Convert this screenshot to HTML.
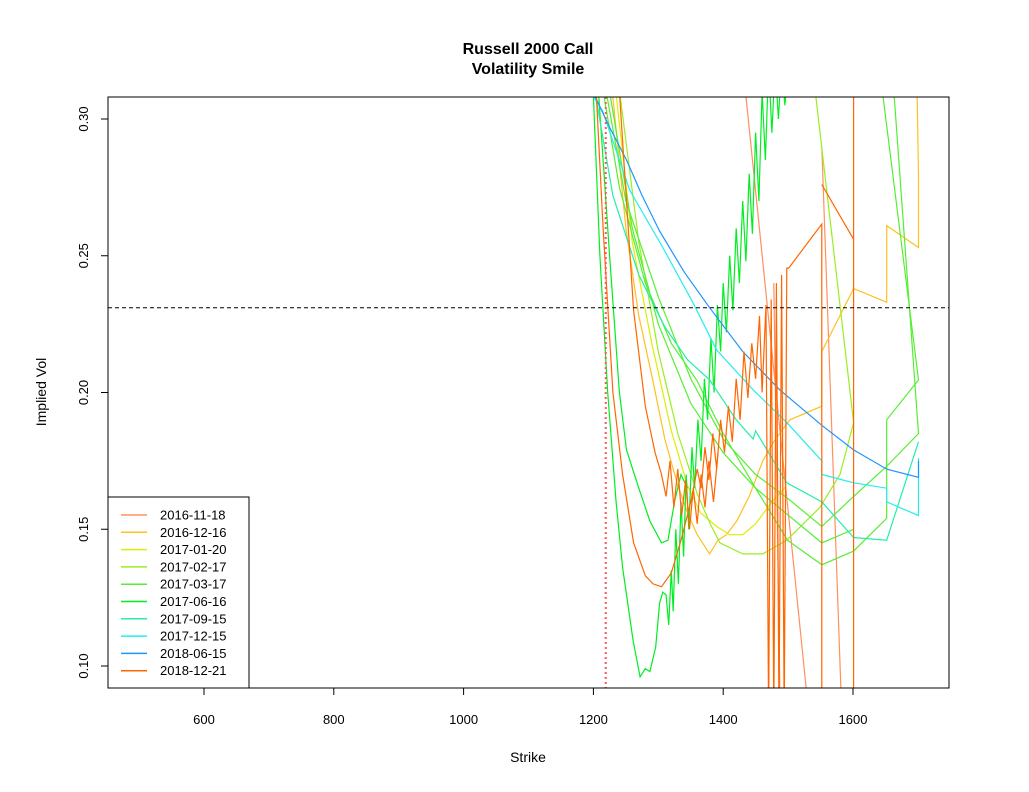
<!DOCTYPE html>
<html><head><meta charset="utf-8"><style>
body{margin:0;background:#fff;}
svg{display:block;font-family:"Liberation Sans",sans-serif;}
</style></head><body>
<svg id="chart" width="1029" height="792">
<defs><clipPath id="pc"><rect x="108" y="97" width="841" height="591"/></clipPath></defs>
<rect width="1029" height="792" fill="#fff"/>
<text x="528" y="54" text-anchor="middle" font-size="16" font-weight="bold">Russell 2000 Call</text>
<text x="528" y="74" text-anchor="middle" font-size="16" font-weight="bold">Volatility Smile</text>
<text x="528" y="762" text-anchor="middle" font-size="14">Strike</text>
<text x="46" y="392" text-anchor="middle" font-size="14" transform="rotate(-90 46 392)">Implied Vol</text>
<g id="axes"></g>
<g id="series" clip-path="url(#pc)"></g>
<rect x="108" y="97" width="841" height="591" fill="none" stroke="#000"/>
<g id="legend"></g>
</svg>
<script>
const xTicks = [600, 800, 1000, 1200, 1400, 1600];
const yTicks = [0.10, 0.15, 0.20, 0.25, 0.30];
const yTickLabels = ["0.10", "0.15", "0.20", "0.25", "0.30"];
const hLineVol = 0.231;
const vLineStrike = 1219;
const labels = ["2016-11-18","2016-12-16","2017-01-20","2017-02-17","2017-03-17","2017-06-16","2017-09-15","2017-12-15","2018-06-15","2018-12-21"];
const colors = ["#FF9060","#FFC020","#DDEE00","#99EE22","#55EE33","#00EE22","#22EEAA","#22EEEE","#1E96FF","#FF6600"];
const s20161118 = [[[1430,0.32],[1533,0.08]],[[1552,0.29],[1583,0.08]],[[1478,0.24],[1488,0.08]]];
const s20161216 = [[[1225,0.32],[1250,0.26],[1270,0.228],[1291,0.205],[1310,0.183],[1330,0.166],[1345,0.156],[1360,0.148],[1379,0.141],[1392,0.146],[1405,0.148],[1421,0.153],[1440,0.162],[1461,0.175],[1478,0.182],[1490,0.186],[1503,0.19],[1552,0.195],[1552,0.215],[1601,0.238],[1652,0.233],[1652,0.261],[1701,0.253],[1701,0.28],[1698,0.32]]];
const s20170120 = [[[1230,0.32],[1260,0.255],[1290,0.218],[1320,0.186],[1345,0.166],[1365,0.156],[1390,0.151],[1410,0.148],[1430,0.148],[1450,0.152],[1475,0.16],[1498,0.166]]];
const s20170217 = [[[1235,0.32],[1270,0.255],[1300,0.215],[1330,0.185],[1360,0.163],[1380,0.152],[1395,0.145],[1430,0.141],[1461,0.141],[1498,0.146],[1549,0.158],[1580,0.17],[1601,0.189],[1537,0.32]]];
const s20170317 = [[[1208,0.32],[1240,0.275],[1280,0.24],[1320,0.218],[1359,0.2046],[1400,0.185],[1450,0.165],[1499,0.146],[1552,0.137],[1601,0.142],[1652,0.154],[1652,0.19],[1701,0.2046],[1640,0.32]],
 [[1212,0.32],[1250,0.27],[1300,0.235],[1350,0.205],[1400,0.183],[1450,0.17],[1501,0.161],[1552,0.151],[1601,0.162],[1652,0.173],[1701,0.185],[1660,0.32]],
 [[1218,0.32],[1260,0.26],[1300,0.225],[1350,0.196],[1400,0.178],[1450,0.165],[1501,0.155],[1552,0.145],[1601,0.15]]];
const s20170616 = [[[1198,0.32],[1210,0.25],[1222,0.2],[1235,0.16],[1245,0.136],[1261,0.1095],[1272,0.096],[1280,0.099],[1287,0.098],[1296,0.107],[1302,0.123],[1307,0.127],[1312,0.126],[1316,0.115],[1320,0.135],[1323,0.12],[1327,0.15],[1331,0.13],[1335,0.16],[1339,0.14],[1343,0.17],[1347,0.15],[1352,0.18],[1356,0.165],[1361,0.19],[1366,0.175],[1371,0.205],[1376,0.19],[1381,0.22],[1386,0.2],[1391,0.232],[1396,0.215],[1400,0.24],[1405,0.222],[1410,0.25],[1415,0.23],[1420,0.26],[1425,0.24],[1430,0.27],[1435,0.248],[1440,0.28],[1445,0.258],[1450,0.295],[1455,0.27],[1460,0.31],[1465,0.285],[1470,0.32],[1475,0.295],[1480,0.32],[1485,0.3],[1490,0.32],[1495,0.305],[1500,0.32]],
 [[1205,0.32],[1225,0.25],[1240,0.2],[1251,0.179],[1270,0.165],[1287,0.153],[1305,0.145],[1315,0.146],[1325,0.16],[1335,0.17],[1345,0.165]]];
const s20170915 = [[[1195,0.32],[1230,0.272],[1270,0.243],[1310,0.224],[1345,0.212],[1379,0.2046],[1420,0.19],[1446,0.183],[1450,0.186],[1470,0.178],[1498,0.167],[1552,0.16],[1601,0.147],[1652,0.146],[1701,0.182]]];
const s20171215 = [[[1195,0.31],[1214,0.303],[1256,0.274],[1307,0.253],[1353,0.233],[1390,0.2155],[1446,0.201],[1498,0.189],[1552,0.175],[1552,0.17],[1601,0.167],[1652,0.165],[1652,0.16],[1701,0.155],[1701,0.176]]];
const s20180615 = [[[1195,0.312],[1225,0.297],[1251,0.285],[1275,0.272],[1302,0.259],[1340,0.244],[1379,0.231],[1430,0.215],[1487,0.201],[1552,0.188],[1601,0.179],[1652,0.172],[1701,0.169],[1701,0.175]]];
const s20181221 = [[[1200,0.33],[1215,0.26],[1230,0.2],[1245,0.17],[1262,0.145],[1280,0.133],[1292,0.13],[1305,0.129],[1320,0.134],[1335,0.146],[1350,0.16],[1360,0.172],[1366,0.165],[1372,0.18],[1378,0.168],[1384,0.185],[1390,0.172],[1396,0.19],[1402,0.178],[1408,0.195],[1414,0.182],[1420,0.205],[1426,0.19],[1432,0.215],[1438,0.198],[1444,0.218],[1450,0.205],[1456,0.228],[1460,0.2],[1466,0.232],[1470,0.08],[1474,0.234],[1478,0.08],[1482,0.24],[1486,0.08],[1490,0.243],[1494,0.08],[1498,0.2455],[1501,0.2455],[1552,0.2616],[1552,0.08]],
 [[1552,0.276],[1601,0.256],[1601,0.08],[1601,0.32]],
 [[1240,0.31],[1262,0.23],[1280,0.195],[1295,0.178],[1305,0.17],[1312,0.162],[1318,0.175],[1324,0.158],[1330,0.172],[1336,0.155],[1342,0.168],[1348,0.15],[1354,0.165],[1360,0.152],[1366,0.17],[1372,0.158],[1378,0.175],[1385,0.16],[1392,0.178]]];
const allSeries = [s20161118,s20161216,s20170120,s20170217,s20170317,s20170616,s20170915,s20171215,s20180615,s20181221];

const NS = "http://www.w3.org/2000/svg";
function xs(v){ return 204 + (v - 600) * 0.649; }
function ys(v){ return 119 + (0.30 - v) * 2735; }
function mk(tag, attrs, parent){ const e = document.createElementNS(NS, tag); for (const k in attrs) e.setAttribute(k, attrs[k]); parent.appendChild(e); return e; }

const axes = document.getElementById('axes');
mk('line',{x1:xs(xTicks[0]),x2:xs(xTicks[xTicks.length-1]),y1:688,y2:688,stroke:'#000'},axes);
xTicks.forEach(t=>{
  const l = mk('line',{x1:xs(t),x2:xs(t),y1:688,y2:695,stroke:'#000'},axes);
  
  
  const tx = mk('text',{x:xs(t),y:724,'text-anchor':'middle','font-size':13},axes);
  tx.textContent = String(t);
  
  
});
yTicks.forEach((t,i)=>{
  const l = mk('line',{x1:101,x2:108,y1:ys(t),y2:ys(t),stroke:'#000'},axes);
  
  
  const tx = mk('text',{x:88,y:ys(t),'text-anchor':'middle','font-size':13,transform:'rotate(-90 88 '+ys(t)+')'},axes);
  tx.textContent = yTickLabels[i];
  
  
});

const sg = document.getElementById('series');
allSeries.forEach((segs,i)=>{
  segs.forEach(seg=>{
    const p = mk('polyline',{points:seg.map(d=>xs(d[0]).toFixed(1)+','+ys(d[1]).toFixed(1)).join(' '),fill:'none',stroke:colors[i],'stroke-width':1.2},sg);
    
    
  });
});
const hl = mk('line',{x1:108,x2:949,y1:ys(hLineVol),y2:ys(hLineVol),stroke:'#000','stroke-dasharray':'4,3'},sg);


const vl = mk('line',{x1:xs(vLineStrike),x2:xs(vLineStrike),y1:97,y2:688,stroke:'#FF5555','stroke-width':2,'stroke-dasharray':'2,3'},sg);



const lg = document.getElementById('legend');
const box = mk('rect',{x:108,y:497,width:141,height:191,fill:'#fff',stroke:'#000'},lg);


labels.forEach((lab,i)=>{
  const y = 515 + i*17.3;
  const l = mk('line',{x1:121,x2:147,y1:y,y2:y,stroke:colors[i],'stroke-width':1.5},lg);
  
  
  const t = mk('text',{x:160,y:y+4.5,'font-size':13},lg);
  t.textContent = lab;
  
  
});
</script>
</body></html>
